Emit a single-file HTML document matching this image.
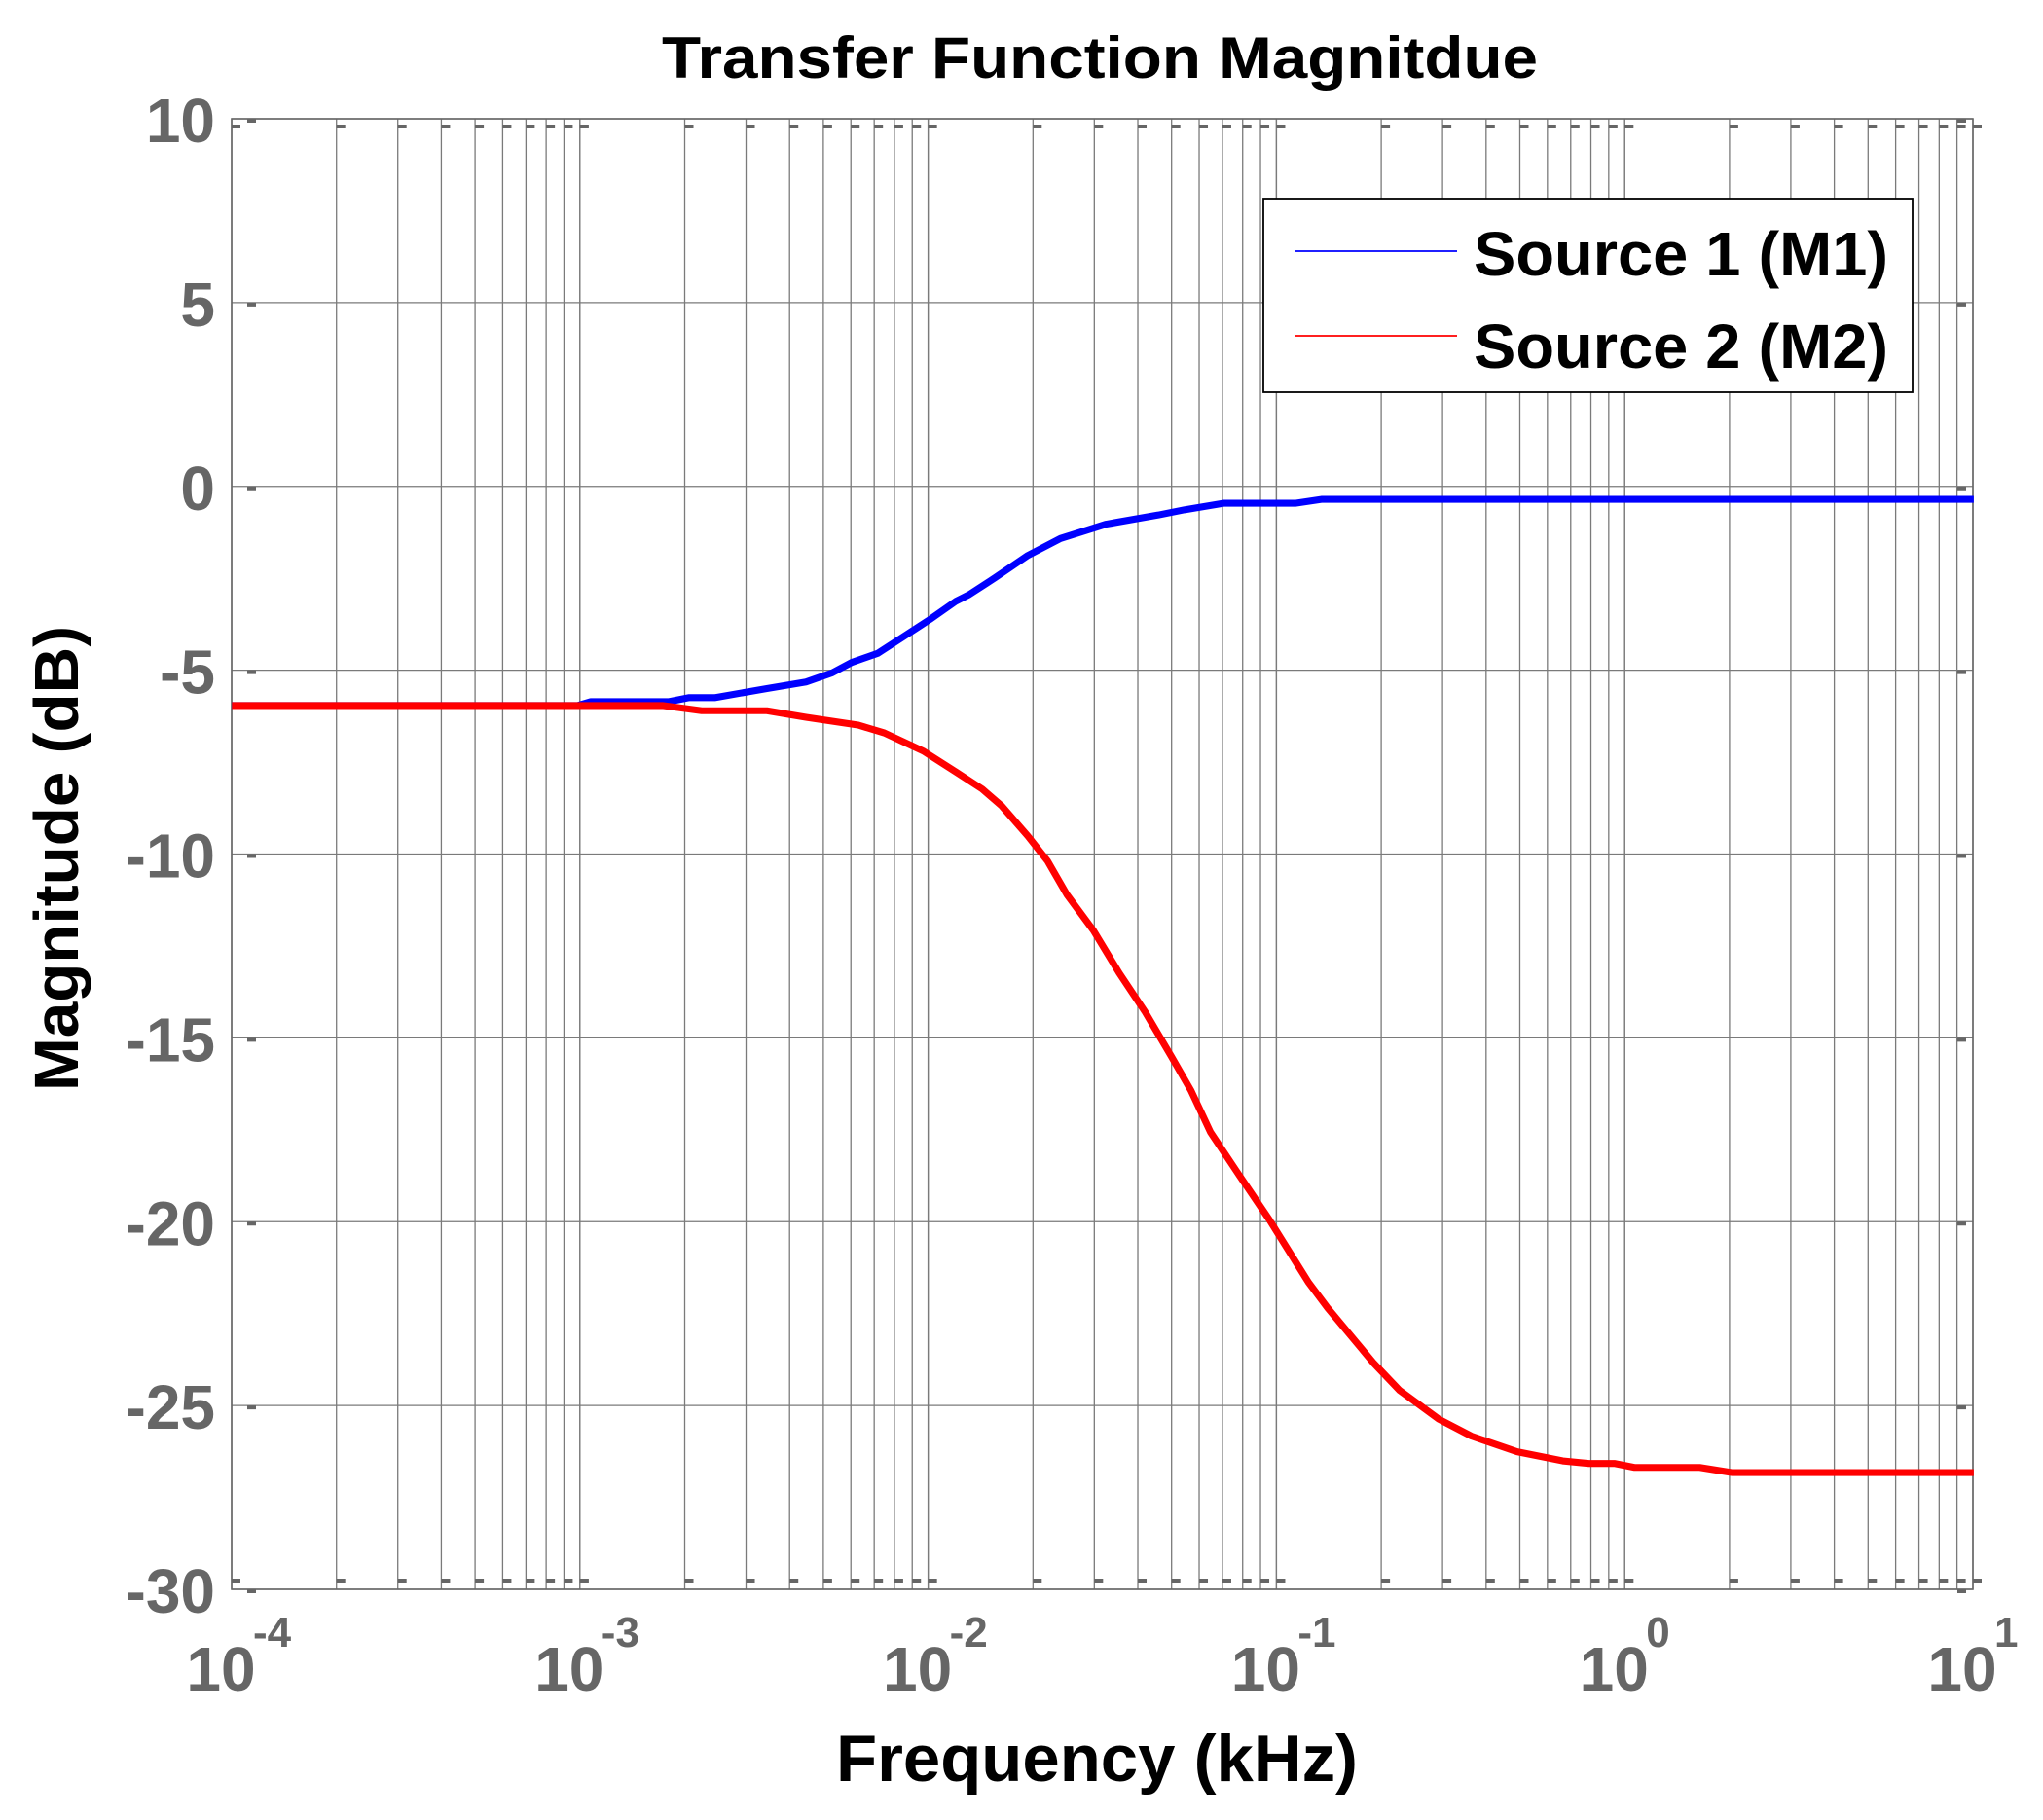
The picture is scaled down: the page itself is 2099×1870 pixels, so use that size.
<!DOCTYPE html>
<html><head><meta charset="utf-8"><style>html,body{margin:0;padding:0;background:#fff}svg{display:block}</style></head>
<body>
<svg width="2099" height="1870" viewBox="0 0 2099 1870" xmlns="http://www.w3.org/2000/svg" font-family="Liberation Sans, sans-serif" font-weight="bold">
<rect width="2099" height="1870" fill="#fff"/>
<g id="grid" stroke="#7a7a7a" stroke-width="1.3"></g>
<g id="ticks" fill="#666"></g>
<rect x="238" y="122" width="1789" height="1511" fill="none" stroke="#666" stroke-width="1.6"/>
<g transform="matrix(1.3405,0,0,1.3405,-3,-3)"><g id="curves" fill="none" stroke-width="5.3" stroke-linejoin="round"></g></g>
<g id="yl" fill="#666" font-size="64" text-anchor="end"></g>
<g id="xl" fill="#666"></g>
<text x="1130" y="80" text-anchor="middle" font-size="60" fill="#000" textLength="900" lengthAdjust="spacingAndGlyphs">Transfer Function Magnitdue</text>
<text x="1127" y="1830" text-anchor="middle" font-size="68" fill="#000" textLength="536" lengthAdjust="spacingAndGlyphs">Frequency  (kHz)</text>
<text transform="translate(80,882) rotate(-90)" text-anchor="middle" font-size="64" fill="#000" textLength="478" lengthAdjust="spacingAndGlyphs">Magnitude (dB)</text>
<rect x="1298" y="204" width="667" height="199" fill="#fff" stroke="#000" stroke-width="1.8"/>
<line x1="1331" y1="258" x2="1497" y2="258" stroke="#00f" stroke-width="1.8"/>
<line x1="1331" y1="345" x2="1497" y2="345" stroke="#f00" stroke-width="1.8"/>
<text x="1514" y="283" font-size="64" fill="#000" textLength="426" lengthAdjust="spacingAndGlyphs">Source 1 (M1)</text>
<text x="1514" y="378" font-size="64" fill="#000" textLength="426" lengthAdjust="spacingAndGlyphs">Source 2 (M2)</text>
</svg>
<script>
var NS="http://www.w3.org/2000/svg",L=238,R=2027,T=122,B=1633,D=(R-L)/5,Y=(B-T)/40;
function el(p,t,a,txt){var e=document.createElementNS(NS,t);for(var k in a)e.setAttribute(k,a[k]);if(txt)e.textContent=txt;p.appendChild(e);return e;}
var g=document.getElementById('grid'),tk=document.getElementById('ticks'),xl=document.getElementById('xl'),yl=document.getElementById('yl'),cv=document.getElementById('curves');
for(var k=0;k<5;k++)for(var i=1;i<=10;i++){var x=L+D*(k+Math.log10(i));if(x>R+0.5)continue;
 el(g,'line',{x1:x,x2:x,y1:T,y2:B});
 el(tk,'rect',{x:x,y:T+6,width:9,height:4});el(tk,'rect',{x:x,y:B-11,width:9,height:4});}
for(var v=-30;v<=10;v+=5){var y=T+(10-v)*Y;el(g,'line',{x1:L,x2:R,y1:y,y2:y});
 el(tk,'rect',{x:L+16,y:y,width:9,height:4});el(tk,'rect',{x:R-16,y:y,width:9,height:4});
 el(yl,'text',{x:221,y:y+24},String(v));}
for(var k=0;k<=5;k++){var x=L+D*k;
 el(xl,'text',{x:x-11,y:1737,'text-anchor':'middle','font-size':64},'10');
 el(xl,'text',{x:x+22,y:1692,'font-size':44},String(k-4));}
function pl(pts,c){var d=pts.map(function(p,i){return (i?'L':'M')+p[0]+','+p[1];}).join(' ');el(cv,'path',{d:d,stroke:c});}
pl([[180,543],[445,543],[455,540],[515,540],[530,537],[550,537],[590,530],[620,525],[640,518],[655,510],[675,503],[695,490],[715,477],[735,463],[745,458],[765,445],[790,428],[815,415],[850,404],[890,397],[910,393],[940,388],[995,388],[1015,385],[1515,385]],'#00f');
pl([[180,543],[510,543],[540,547],[590,547],[620,552],[660,558],[680,564],[710,578],[735,594],[755,607],[770,620],[790,643],[805,662],[820,688],[840,715],[860,748],[880,778],[900,812],[915,838],[930,870],[950,900],[975,937],[1005,985],[1020,1005],[1055,1047],[1075,1068],[1105,1090],[1130,1103],[1165,1115],[1200,1122],[1220,1124],[1240,1124],[1255,1127],[1305,1127],[1330,1131],[1515,1131]],'#f00');
</script>
</body></html>
